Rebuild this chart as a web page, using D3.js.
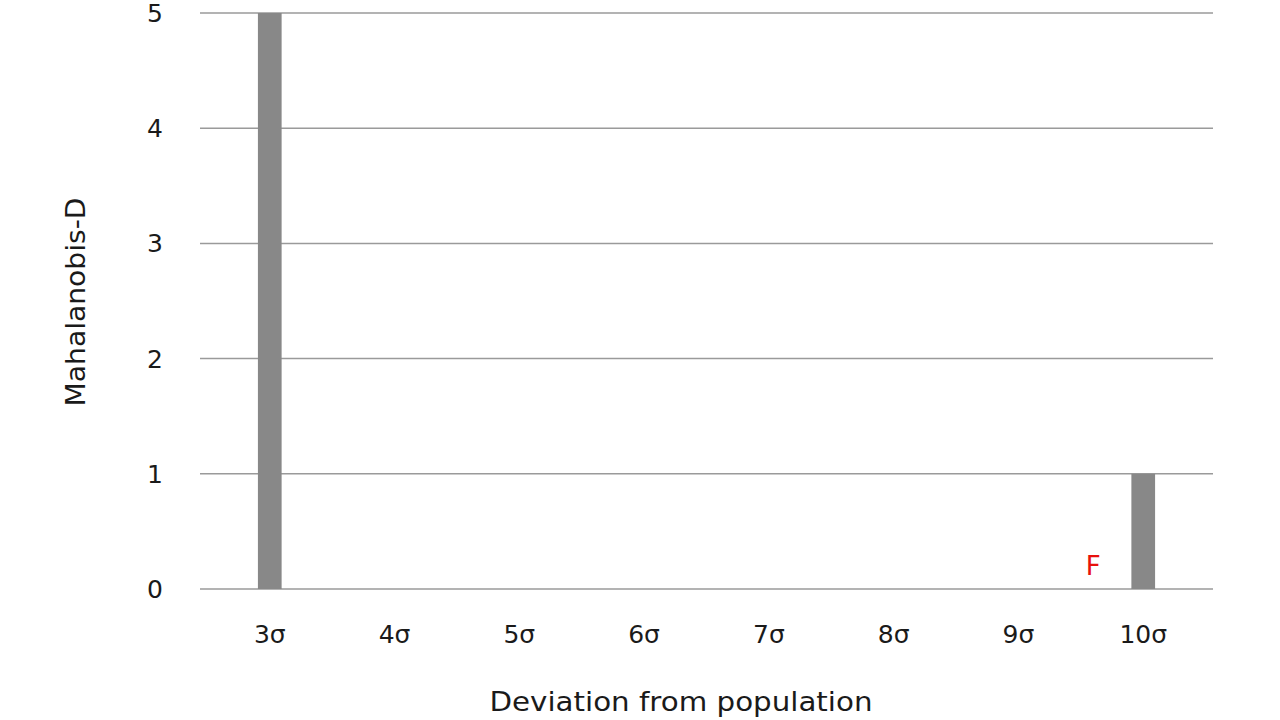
<!DOCTYPE html>
<html><head><meta charset="utf-8">
<script src="https://cdn.jsdelivr.net/npm/d3@7"></script>
<style>
body{margin:0;background:#fff;}
text{font-family:"DejaVu Sans",sans-serif;fill:#1a1a1a;}
</style></head>
<body><svg id="c" width="1280" height="720"></svg>
<script>
const categories = ["3σ","4σ","5σ","6σ","7σ","8σ","9σ","10σ"];
const values = [5,0,0,0,0,0,0,1];
const yTicks = [0,1,2,3,4,5];
const annotation = {label:"F", cat:"9σ", offset:0.6, value:0.2};

(function(){
const svg = d3.select("#c");
const pL=200, pR=1213, pT=13, pB=589;
const x = d3.scaleBand().domain(categories).range([208,1205]).paddingInner(0.81).paddingOuter(0.4);
const y = d3.scaleLinear().domain([0,5]).range([pB,pT]);

svg.append("g").selectAll("line").data(yTicks).join("line")
  .attr("x1",pL).attr("x2",pR)
  .attr("y1",d=>y(d)).attr("y2",d=>y(d))
  .attr("stroke","#9a9a9a").attr("stroke-width",1.5);

svg.append("g").selectAll("text").data(yTicks).join("text")
  .attr("x",155).attr("y",d=>y(d)).attr("dy","0.36em")
  .attr("text-anchor","middle").attr("font-size",25).text(d=>d);

svg.append("g").selectAll("rect").data(values.map((v,i)=>({c:categories[i],v}))).join("rect")
  .attr("x",d=>x(d.c)).attr("width",x.bandwidth())
  .attr("y",d=>y(d.v)).attr("height",d=>y(0)-y(d.v))
  .attr("fill","#888888");

svg.append("g").selectAll("text").data(categories).join("text")
  .attr("x",d=>x(d)+x.bandwidth()/2).attr("y",643)
  .attr("text-anchor","middle").attr("font-size",25).text(d=>d);

svg.append("text")
  .attr("x",x(annotation.cat)+x.bandwidth()/2+x.step()*annotation.offset)
  .attr("y",y(annotation.value)).attr("dy","0.36em")
  .attr("text-anchor","middle").attr("font-size",26).style("fill","#e8100c")
  .text(annotation.label);

svg.append("text").attr("x",681).attr("y",711).attr("text-anchor","middle")
  .attr("font-size",27).attr("textLength",383).attr("lengthAdjust","spacingAndGlyphs")
  .text("Deviation from population");
svg.append("text").attr("transform","translate(85,302) rotate(-90)")
  .attr("text-anchor","middle").attr("font-size",27).attr("textLength",209).attr("lengthAdjust","spacingAndGlyphs")
  .text("Mahalanobis-D");
})();
</script></body></html>
